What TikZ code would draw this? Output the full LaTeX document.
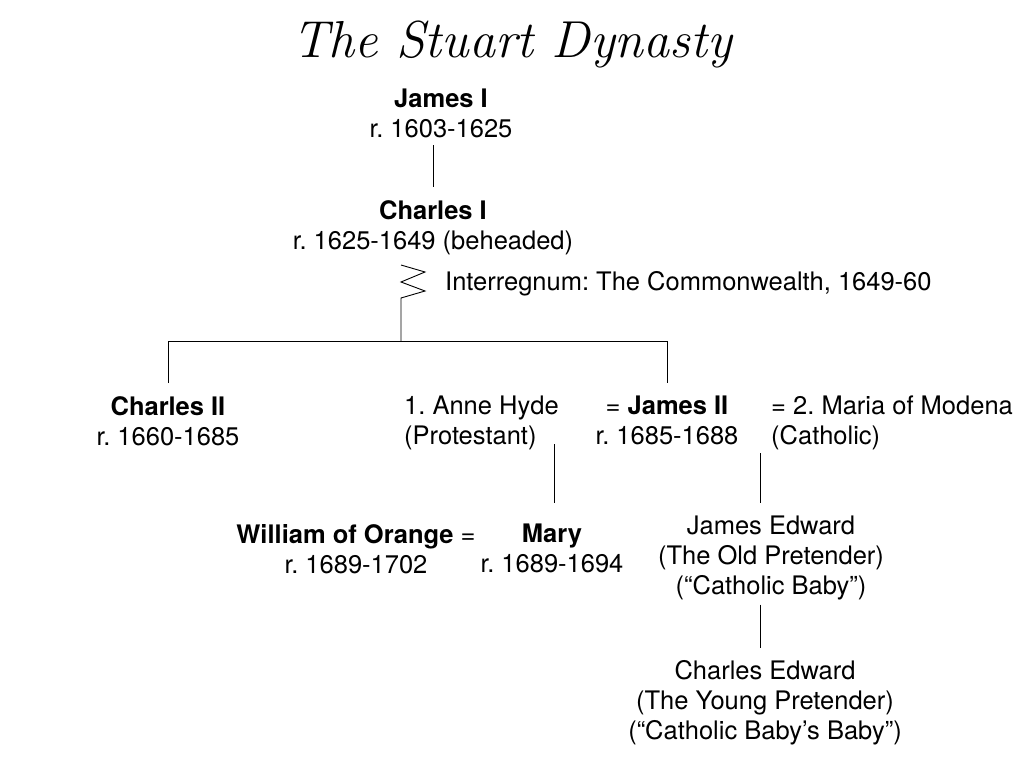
\documentclass[tikz,border=0pt]{standalone}
\usepackage{fontspec}
\setsansfont{TeX Gyre Heros}
\frenchspacing
\begin{document}
\begin{tikzpicture}[x=1pt, y=-1pt,
	person/.style={font=\sffamily\fontsize{25.5}{30}\selectfont, align=center, inner sep=0pt, anchor=north},
	spouse/.style={person, align=left, anchor=north west},
	link/.style={line width=1pt, shorten <=7pt, shorten >=13pt}]
	\useasboundingbox (0,0) rectangle (1024,768);
	\node[font=\rmfamily\itshape\fontsize{52}{60}\selectfont] (title) at (512,45) {The Stuart Dynasty};
	% kings and queens
	\node[person] (JamesI) at (441,89) {\textbf{James I}\\r. 1603-1625};
	\node[person] (CharlesI) at (433,200) {\textbf{Charles I}\\r. 1625-1649 (beheaded)};
	\node[person, anchor=base west] (Interregnum) at (445,290) {Interregnum: The Commonwealth, 1649-60};
	\node[person] (CharlesII) at (168,396) {\textbf{Charles II}\\r. 1660-1685};
	\node[spouse] (AnneHyde) at (404,396) {1. Anne Hyde\\(Protestant)};
	\node[person] (JamesII) at (667,396) {= \textbf{James II}\\r. 1685-1688};
	\node[spouse] (Maria) at (771,396) {= 2. Maria of Modena\\(Catholic)};
	\node[person] (William) at (356,524) {\textbf{William of Orange} =\\r. 1689-1702};
	\node[person] (Mary) at (552,524) {\textbf{Mary}\\r. 1689-1694};
	\node[person] (JamesEdward) at (771,516) {James Edward\\(The Old Pretender)\\(“Catholic Baby”)};
	\node[person] (CharlesEdward) at (765,660) {Charles Edward\\(The Young Pretender)\\(“Catholic Baby’s Baby”)};
	% lines of descent
	\coordinate (zz) at (401,265);
	\coordinate (bar) at (401,341);
	\coordinate (wed1) at (554,444);
	\coordinate (wed2) at (760,453);
	\draw[link] (JamesI.south -| CharlesI.north) -- (CharlesI.north);
	\draw[line width=0.9pt] (zz) -- ++(24,7) -- ++(-24,10) -- ++(24,9) -- ++(-24,7) -- (bar);
	\draw[link, shorten <=13pt] (CharlesII.north) -- (CharlesII.north |- bar) -- (JamesII.north |- bar) -- (JamesII.north);
	\draw[link, shorten <=0pt, shorten >=21pt] (wed1) -- (wed1 |- Mary.north);
	\draw[link, shorten <=0pt] (wed2) -- (wed2 |- JamesEdward.north);
	\draw[link, shorten <=4pt, shorten >=12pt] (JamesEdward.south -| wed2) -- (CharlesEdward.north -| wed2);
\end{tikzpicture}
\end{document}
